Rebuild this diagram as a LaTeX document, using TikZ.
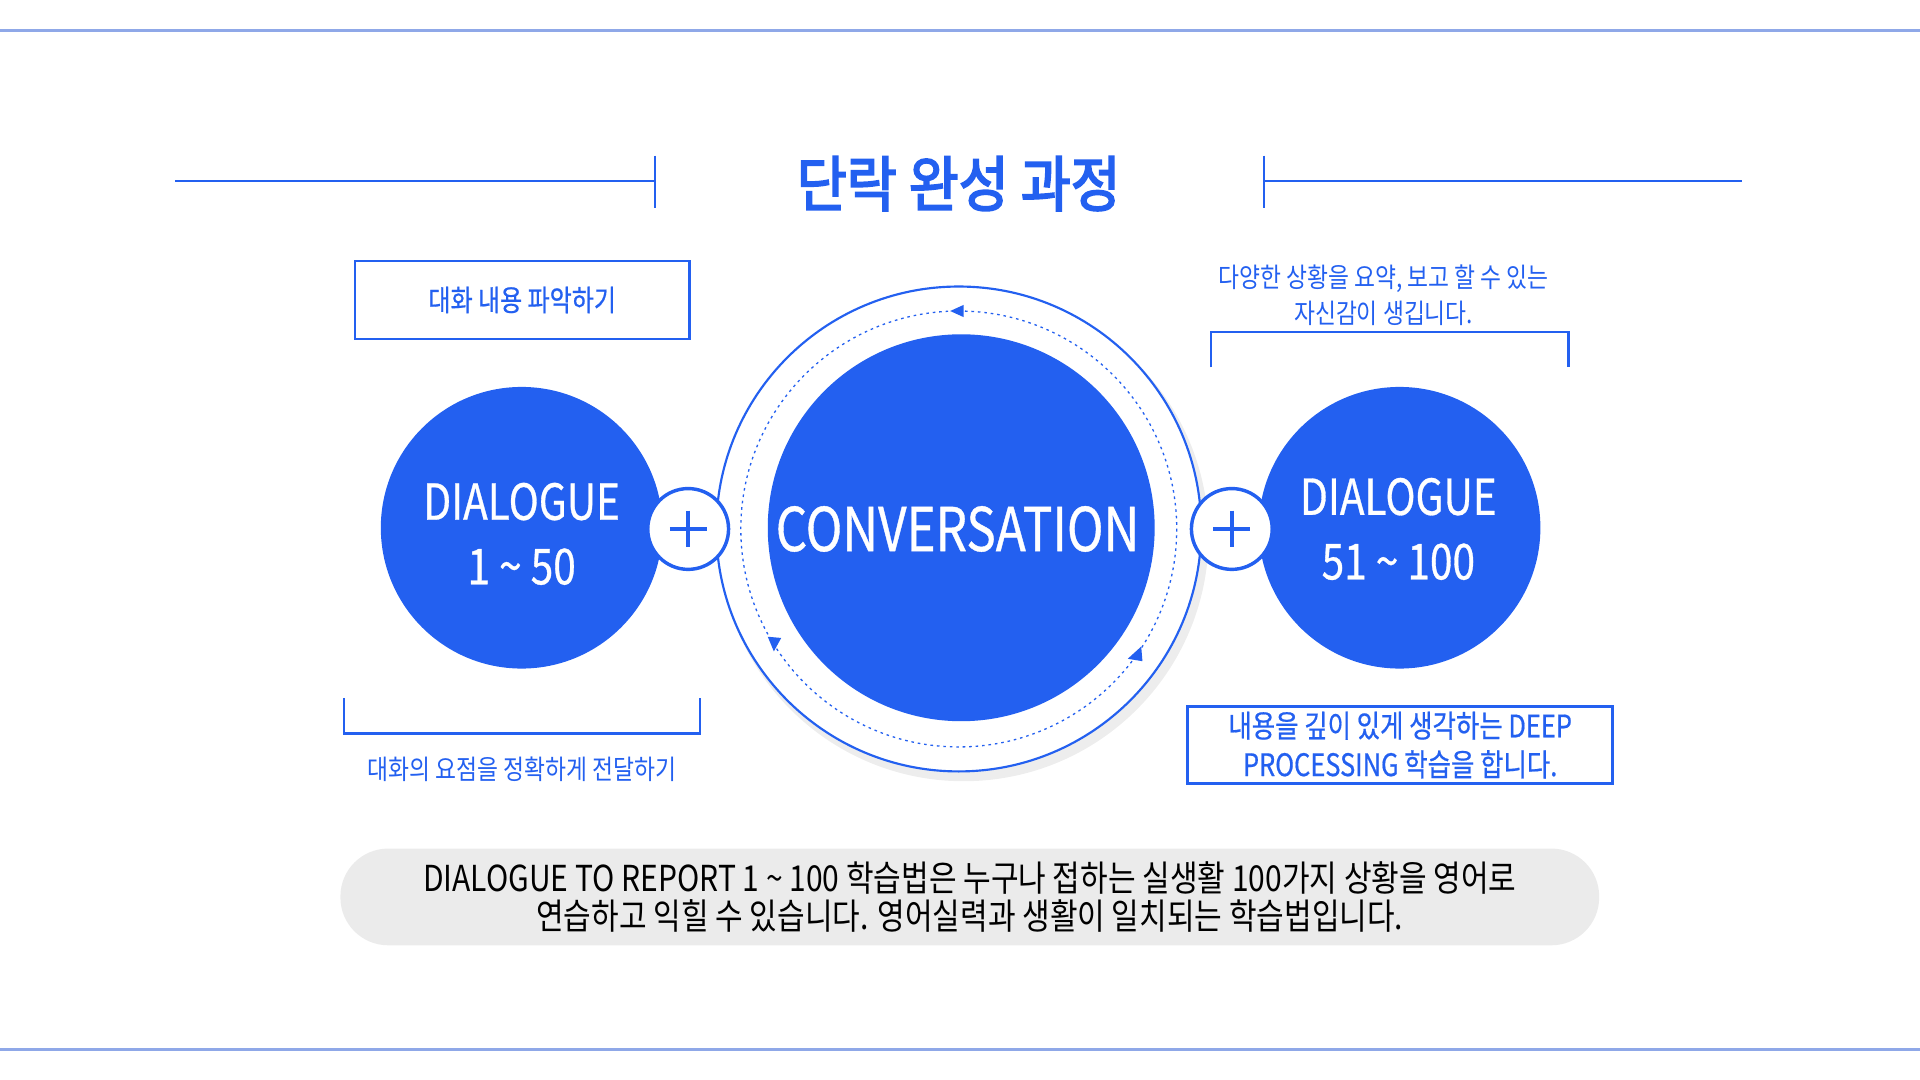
\documentclass[tikz,border=0pt]{standalone}
\usepackage{fontspec}
\setmainfont{Noto Sans CJK KR}[FakeStretch=0.84]
\newfontfamily\krb{Noto Sans CJK KR}[FakeBold=3,FakeStretch=0.9]
\newfontfamily\krm{Noto Sans CJK KR}[FakeBold=0.6,FakeStretch=0.82]
\usetikzlibrary{arrows.meta}
\definecolor{mb}{HTML}{2360F0}
\definecolor{lb}{HTML}{8FA8E8}
\begin{document}
\begin{tikzpicture}[x=0.01cm,y=-0.01cm,
  ln/.style={draw=mb,line width=0.5pt},
  lbl/.style={text=white,align=center,inner sep=0,font=\krm\fontsize{11.5}{15}\selectfont},
  plus/.style={circle,draw=mb,fill=white,line width=0.8pt,minimum size=66*0.01cm,inner sep=0},
  sm/.style={text=mb,font=\fontsize{6.3}{8.2}\selectfont,align=center}]
\useasboundingbox (0,0) rectangle (1568,882);
\draw[draw=lb,line width=0.6pt] (0,25) -- (1568,25);
\draw[draw=lb,line width=0.6pt] (0,857) -- (1568,857);
% title
\node (title) at (783,150) [text=mb,font=\krb\fontsize{14}{18}\selectfont] {단락 완성 과정};
\draw[ln] (143,148) -- (535,148) (535,127) -- (535,170);
\draw[ln] (1032,148) -- (1423,148) (1032,127) -- (1032,170);
% left
\node (lbox) [draw=mb,line width=0.6pt,minimum width=273*0.01cm,minimum height=64*0.01cm,text=mb,font=\krm\fontsize{6.8}{8}\selectfont] at (426.5,245) {대화 내용 파악하기};
\fill[mb] (426,431) circle (115);
\node (lc) [lbl] at (426,436) {DIALOGUE\\1 \textasciitilde{} 50};
\draw[ln] (281,570) -- (281,599) -- (572,599) -- (572,570);
\node (lt) [sm] at (426,628) {대화의 요점을 정확하게 전달하기};
% center
\fill[black!7] (787,438) circle (200);
\fill[white] (783,432) circle (198);
\draw[mb,line width=0.5pt] (783,432) circle (198);
\draw[mb,line width=0.3pt,dash pattern=on 0.6pt off 0.9pt] (783,432) circle (178);
\fill[mb] (785,431) circle (158);
\node (cc) [lbl,font=\krm\fontsize{14}{18}\selectfont] at (782,432) {CONVERSATION};
\fill[mb] (776,254) -- (787,249) -- (787,259) -- cycle;
\fill[mb] (632,532) -- (627,520) -- (638,521) -- cycle;
\fill[mb] (932,528) -- (921,538) -- (933,540) -- cycle;
% right
\fill[mb] (1143,431) circle (115);
\node (rc) [lbl] at (1142,432) {DIALOGUE\\51 \textasciitilde{} 100};
% plus
\node (p1) [plus] at (562,432) {};
\draw[mb,line width=1pt] (547,432) -- (577,432) (562,417) -- (562,447);
\node (p2) [plus] at (1006,432) {};
\draw[mb,line width=1pt] (991,432) -- (1021,432) (1006,417) -- (1006,447);
\node (rt) [sm] at (1130,241) {다양한 상황을 요약, 보고 할 수 있는\\자신감이 생깁니다.};
\draw[ln] (989,300) -- (989,271) -- (1281,271) -- (1281,300);
\node (rbox) [draw=mb,line width=0.6pt,minimum width=347*0.01cm,minimum height=63*0.01cm,inner sep=0,text=mb,align=center,font=\krm\fontsize{7.2}{9}\selectfont] at (1143.5,608.5) {내용을 깊이 있게 생각하는 DEEP\\PROCESSING 학습을 합니다.};
% bottom
\node (pill) [fill=black!8,rounded corners=39*0.01cm,minimum width=1028*0.01cm,minimum height=79*0.01cm,inner sep=0,align=center,font=\fontsize{8.3}{9}\selectfont] at (792,732.5) {DIALOGUE TO REPORT 1 \textasciitilde{} 100 학습법은 누구나 접하는 실생활 100가지 상황을 영어로\\연습하고 익힐 수 있습니다. 영어실력과 생활이 일치되는 학습법입니다.};
\end{tikzpicture}
\end{document}
